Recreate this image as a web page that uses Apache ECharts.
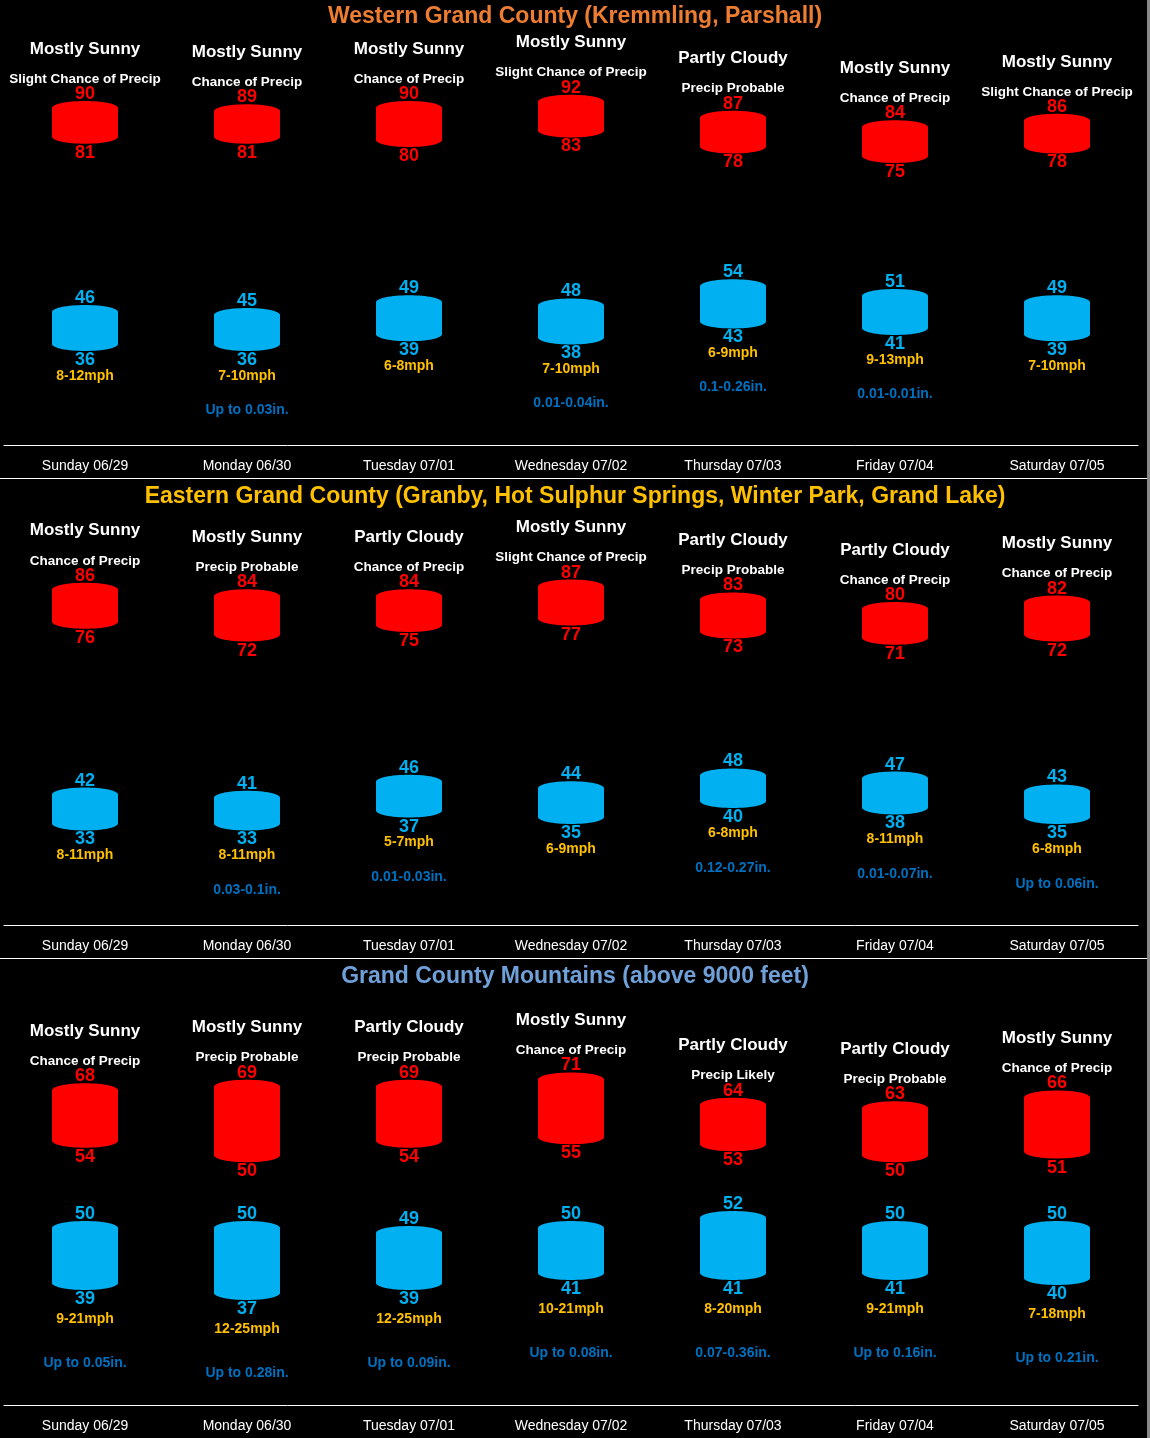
<!DOCTYPE html>
<html><head><meta charset="utf-8">
<script src="https://cdn.jsdelivr.net/npm/echarts@6/dist/echarts.min.js"></script>
<style>html,body{margin:0;padding:0;background:#000;}#c{width:1150px;height:1438px;}</style>
</head><body><div id="c"></div>
<script>
var days = ['Sunday 06/29','Monday 06/30','Tuesday 07/01','Wednesday 07/02','Thursday 07/03','Friday 07/04','Saturday 07/05'];
var titles = ['Western Grand County (Kremmling, Parshall)',
  'Eastern Grand County (Granby, Hot Sulphur Springs, Winter Park, Grand Lake)',
  'Grand County Mountains (above 9000 feet)'];

// panel 1
var sky1 = ['Mostly Sunny','Mostly Sunny','Mostly Sunny','Mostly Sunny','Partly Cloudy','Mostly Sunny','Mostly Sunny'];
var pop1 = ['Slight Chance of Precip','Chance of Precip','Chance of Precip','Slight Chance of Precip','Precip Probable','Chance of Precip','Slight Chance of Precip'];
var highTop1 = [90,89,90,92,87,84,86];
var highBot1 = [81,81,80,83,78,75,78];
var lowTop1 = [46,45,49,48,54,51,49];
var lowBot1 = [36,36,39,38,43,41,39];
var wind1 = ['8-12mph','7-10mph','6-8mph','7-10mph','6-9mph','9-13mph','7-10mph'];
var qpf1 = ['','Up to 0.03in.','','0.01-0.04in.','0.1-0.26in.','0.01-0.01in.',''];
// panel 2
var sky2 = ['Mostly Sunny','Mostly Sunny','Partly Cloudy','Mostly Sunny','Partly Cloudy','Partly Cloudy','Mostly Sunny'];
var pop2 = ['Chance of Precip','Precip Probable','Chance of Precip','Slight Chance of Precip','Precip Probable','Chance of Precip','Chance of Precip'];
var highTop2 = [86,84,84,87,83,80,82];
var highBot2 = [76,72,75,77,73,71,72];
var lowTop2 = [42,41,46,44,48,47,43];
var lowBot2 = [33,33,37,35,40,38,35];
var wind2 = ['8-11mph','8-11mph','5-7mph','6-9mph','6-8mph','8-11mph','6-8mph'];
var qpf2 = ['','0.03-0.1in.','0.01-0.03in.','','0.12-0.27in.','0.01-0.07in.','Up to 0.06in.'];
// panel 3
var sky3 = ['Mostly Sunny','Mostly Sunny','Partly Cloudy','Mostly Sunny','Partly Cloudy','Partly Cloudy','Mostly Sunny'];
var pop3 = ['Chance of Precip','Precip Probable','Precip Probable','Chance of Precip','Precip Likely','Precip Probable','Chance of Precip'];
var highTop3 = [68,69,69,71,64,63,66];
var highBot3 = [54,50,54,55,53,50,51];
var lowTop3 = [50,50,49,50,52,50,50];
var lowBot3 = [39,37,39,41,41,41,40];
var wind3 = ['9-21mph','12-25mph','12-25mph','10-21mph','8-20mph','9-21mph','7-18mph'];
var qpf3 = ['Up to 0.05in.','Up to 0.28in.','Up to 0.09in.','Up to 0.08in.','0.07-0.36in.','Up to 0.16in.','Up to 0.21in.'];

var panels = [
  {sky:sky1,pop:pop1,hT:highTop1,hB:highBot1,lT:lowTop1,lB:lowBot1,wind:wind1,qpf:qpf1,top:45,
   red:[-15.3,109.7],blue:[4.4,129.4],qOff:66,wOff:32,color:'#ED7D31'},
  {sky:sky2,pop:pop2,hT:highTop2,hB:highBot2,lT:lowTop2,lB:lowBot2,wind:wind2,qpf:qpf2,top:525,
   red:[-18.75,106.25],blue:[1.25,126.25],qOff:67,wOff:32,color:'#FFC000'},
  {sky:sky3,pop:pop3,hT:highTop3,hB:highBot3,lT:lowTop3,lB:lowBot3,wind:wind3,qpf:qpf3,top:1005,
   red:[-19.4,91.7],blue:[14.6,94.6],qOff:80,wOff:36,color:'#6FA0D8'}
];

var FONT = '"Liberation Sans", Arial, sans-serif';
function txt(x, y, s, color, size) {
  return {type:'text', style:{x:x, y:y, text:s, fill:color, font:'bold '+size+'px '+FONT, textAlign:'center', textVerticalAlign:'middle'}};
}
function makeRender(p, isRed) {
  return function(params, api) {
    var i = api.value(0);
    var a = api.coord([i, api.value(1)]);
    var b = api.coord([i, api.value(2)]);
    var cx = a[0], top = a[1], bot = b[1], rx = 33, ry = 7;
    var col = isRed ? '#FF0000' : '#00B0F0';
    var ch = [
      {type:'rect', shape:{x:cx-rx, y:top, width:rx*2, height:bot-top}, style:{fill:col}},
      {type:'ellipse', shape:{cx:cx, cy:bot, rx:rx, ry:ry}, style:{fill:col}},
      {type:'ellipse', shape:{cx:cx, cy:top, rx:rx, ry:ry}, style:{fill:col}},
      txt(cx, top-14, String(api.value(1)), col, 18),
      txt(cx, bot+16, String(api.value(2)), col, 18)
    ];
    if (isRed) {
      ch.push(txt(cx, top-59, p.sky[i], '#FFFFFF', 17));
      ch.push(txt(cx, top-29, p.pop[i], '#FFFFFF', 13.5));
    } else {
      ch.push(txt(cx, bot+p.wOff, p.wind[i], '#FFC000', 14));
      if (p.qpf[i]) ch.push(txt(cx, bot+p.qOff, p.qpf[i], '#0070C0', 14));
    }
    return {type:'group', children:ch};
  };
}

var grids = [], xAxes = [], yAxes = [], series = [], graphics = [];
panels.forEach(function(p, k) {
  grids.push({left:4, right:12, top:p.top, height:400});
  xAxes.push({type:'category', gridIndex:k, data:days,
    axisLine:{show:true, onZero:false, lineStyle:{color:'#FFFFFF', width:1}}, axisTick:{show:false},
    axisLabel:{color:'#FFFFFF', fontSize:14, fontFamily:FONT, margin:14}});
  yAxes.push({type:'value', gridIndex:k, min:p.red[0], max:p.red[1], show:false});
  yAxes.push({type:'value', gridIndex:k, min:p.blue[0], max:p.blue[1], show:false});
  var redData = [], blueData = [];
  for (var i = 0; i < 7; i++) {
    redData.push([i, p.hT[i], p.hB[i]]);
    blueData.push([i, p.lT[i], p.lB[i]]);
  }
  series.push({type:'custom', xAxisIndex:k, yAxisIndex:2*k, data:redData, renderItem:makeRender(p, true), silent:true});
  series.push({type:'custom', xAxisIndex:k, yAxisIndex:2*k+1, data:blueData, renderItem:makeRender(p, false), silent:true});
  graphics.push({type:'text', left:'center', top:p.top-40, style:{text:titles[k], fill:p.color, font:'bold 23px '+FONT}});
  if (k < 2) graphics.push({type:'rect', shape:{x:0, y:p.top+433, width:1150, height:1}, style:{fill:'#FFFFFF'}});
});
graphics.push({type:'rect', shape:{x:1147, y:0, width:3, height:1438}, style:{fill:'#888888'}});

var chart = echarts.init(document.getElementById('c'));
chart.setOption({
  backgroundColor:'#000000',
  animation:false,
  grid:grids, xAxis:xAxes, yAxis:yAxes, series:series, graphic:graphics
});
</script>
</body></html>
